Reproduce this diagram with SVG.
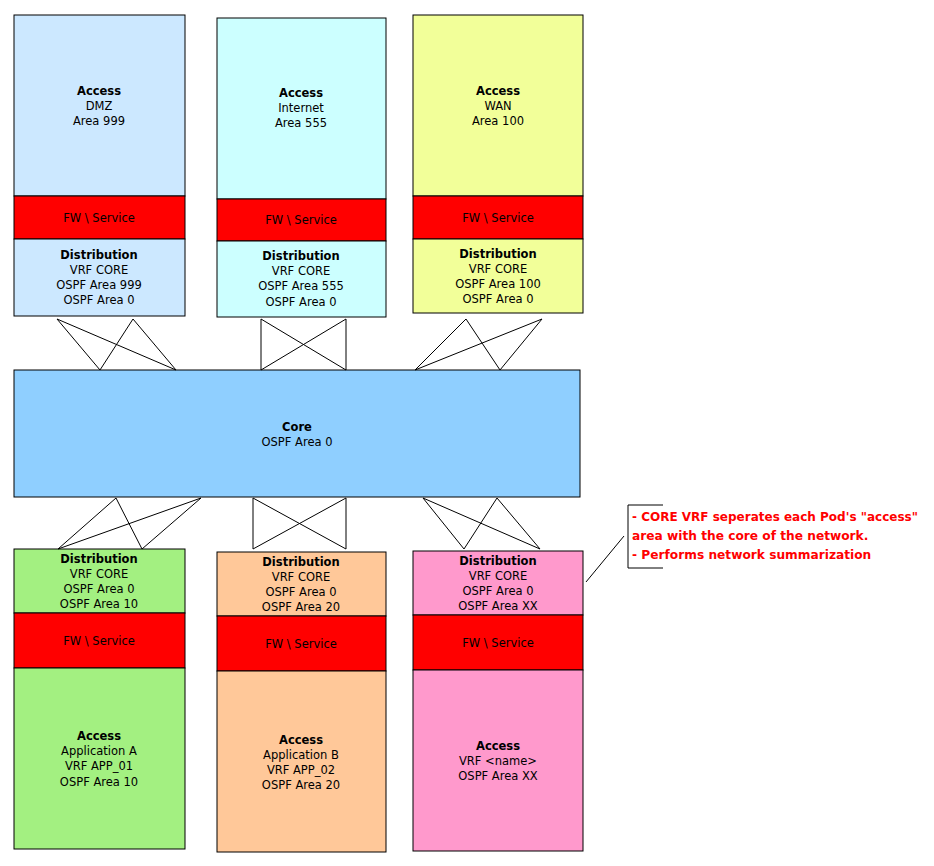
<svg xmlns="http://www.w3.org/2000/svg" width="934" height="866" viewBox="0 0 934 866">
<style>
.b{stroke:#000;stroke-width:1}
text{font-family:"DejaVu Sans",Verdana,sans-serif;font-size:11.5px;text-anchor:middle;fill:#000}
.h{font-weight:bold}
.fw{fill:#ff0000}
.c line,.c polyline{stroke:#000;stroke-width:1;fill:none}
.n{fill:#ff0000;font-weight:bold;font-size:12.2px;text-anchor:start}
</style>
<rect width="934" height="866" fill="#fff"/>
<g id="pod-dmz">
<rect class="b" x="14" y="15" width="171" height="181" fill="#cce8ff"/>
<rect class="b fw" x="14" y="196" width="171" height="43"/>
<rect class="b" x="14" y="239" width="171" height="77" fill="#cce8ff"/>
<text x="99" y="95" class="h">Access</text><text x="99" y="110">DMZ</text><text x="99" y="125">Area 999</text>
<text x="99" y="222">FW \ Service</text>
<text x="99" y="259" class="h">Distribution</text><text x="99" y="274">VRF CORE</text><text x="99" y="289">OSPF Area 999</text><text x="99" y="304">OSPF Area 0</text>
</g>
<g id="pod-internet">
<rect class="b" x="217" y="18" width="169" height="181" fill="#ccffff"/>
<rect class="b fw" x="217" y="199" width="169" height="42"/>
<rect class="b" x="217" y="241" width="169" height="76" fill="#ccffff"/>
<text x="301" y="97" class="h">Access</text><text x="301" y="112">Internet</text><text x="301" y="127">Area 555</text>
<text x="301" y="224">FW \ Service</text>
<text x="301" y="260" class="h">Distribution</text><text x="301" y="275">VRF CORE</text><text x="301" y="290">OSPF Area 555</text><text x="301" y="306">OSPF Area 0</text>
</g>
<g id="pod-wan">
<rect class="b" x="413" y="15" width="170" height="181" fill="#f2ff99"/>
<rect class="b fw" x="413" y="196" width="170" height="43"/>
<rect class="b" x="413" y="239" width="170" height="74" fill="#f2ff99"/>
<text x="498" y="95" class="h">Access</text><text x="498" y="110">WAN</text><text x="498" y="125">Area 100</text>
<text x="498" y="222">FW \ Service</text>
<text x="498" y="258" class="h">Distribution</text><text x="498" y="273">VRF CORE</text><text x="498" y="288">OSPF Area 100</text><text x="498" y="303">OSPF Area 0</text>
</g>
<g id="core">
<rect class="b" x="14" y="370" width="566" height="127" fill="#8fcfff"/>
<text x="297" y="431" class="h">Core</text><text x="297" y="446">OSPF Area 0</text>
</g>
<g id="pod-appa">
<rect class="b" x="14" y="549" width="171" height="64" fill="#a3f081"/>
<rect class="b fw" x="14" y="613" width="171" height="55"/>
<rect class="b" x="14" y="668" width="171" height="181" fill="#a3f081"/>
<text x="99" y="563" class="h">Distribution</text><text x="99" y="578">VRF CORE</text><text x="99" y="593">OSPF Area 0</text><text x="99" y="608">OSPF Area 10</text>
<text x="99" y="645">FW \ Service</text>
<text x="99" y="740" class="h">Access</text><text x="99" y="755">Application A</text><text x="99" y="770">VRF APP_01</text><text x="99" y="786">OSPF Area 10</text>
</g>
<g id="pod-appb">
<rect class="b" x="217" y="552" width="169" height="64" fill="#ffc899"/>
<rect class="b fw" x="217" y="616" width="169" height="55"/>
<rect class="b" x="217" y="671" width="169" height="181" fill="#ffc899"/>
<text x="301" y="566" class="h">Distribution</text><text x="301" y="581">VRF CORE</text><text x="301" y="596">OSPF Area 0</text><text x="301" y="611">OSPF Area 20</text>
<text x="301" y="648">FW \ Service</text>
<text x="301" y="744" class="h">Access</text><text x="301" y="759">Application B</text><text x="301" y="774">VRF APP_02</text><text x="301" y="789">OSPF Area 20</text>
</g>
<g id="pod-xx">
<rect class="b" x="413" y="551" width="170" height="64" fill="#ff99cc"/>
<rect class="b fw" x="413" y="615" width="170" height="55"/>
<rect class="b" x="413" y="670" width="170" height="181" fill="#ff99cc"/>
<text x="498" y="565" class="h">Distribution</text><text x="498" y="580">VRF CORE</text><text x="498" y="595">OSPF Area 0</text><text x="498" y="610">OSPF Area XX</text>
<text x="498" y="647">FW \ Service</text>
<text x="498" y="750" class="h">Access</text><text x="498" y="765">VRF &lt;name&gt;</text><text x="498" y="780">OSPF Area XX</text>
</g>
<g id="connectors" class="c">
<line x1="57" y1="319" x2="100" y2="370"/><line x1="133" y1="319" x2="100" y2="370"/><line x1="133" y1="319" x2="176" y2="370"/><line x1="57" y1="319" x2="176" y2="370"/>
<line x1="261" y1="319" x2="261" y2="370"/><line x1="346" y1="319" x2="346" y2="370"/><line x1="261" y1="319" x2="346" y2="370"/><line x1="346" y1="319" x2="261" y2="370"/>
<line x1="466" y1="319" x2="415" y2="370"/><line x1="466" y1="319" x2="500" y2="370"/><line x1="542" y1="319" x2="415" y2="370"/><line x1="542" y1="319" x2="500" y2="370"/>
<line x1="116" y1="498" x2="58" y2="549"/><line x1="116" y1="498" x2="142" y2="549"/><line x1="201" y1="498" x2="58" y2="549"/><line x1="201" y1="498" x2="142" y2="549"/>
<line x1="253" y1="498" x2="253" y2="549"/><line x1="346" y1="498" x2="346" y2="549"/><line x1="253" y1="498" x2="346" y2="549"/><line x1="346" y1="498" x2="253" y2="549"/>
<line x1="423" y1="498" x2="464" y2="549"/><line x1="497" y1="498" x2="464" y2="549"/><line x1="497" y1="498" x2="540" y2="549"/><line x1="423" y1="498" x2="540" y2="549"/>
<line x1="586" y1="582" x2="624" y2="536"/>
<polyline points="663,505 628,505 628,568 663,568"/>
</g>
<g id="note">
<text class="n" x="632" y="521" textLength="286" lengthAdjust="spacingAndGlyphs">- CORE VRF seperates each Pod's "access"</text>
<text class="n" x="632" y="540">area with the core of the network.</text>
<text class="n" x="632" y="559">- Performs network summarization</text>
</g>
</svg>
